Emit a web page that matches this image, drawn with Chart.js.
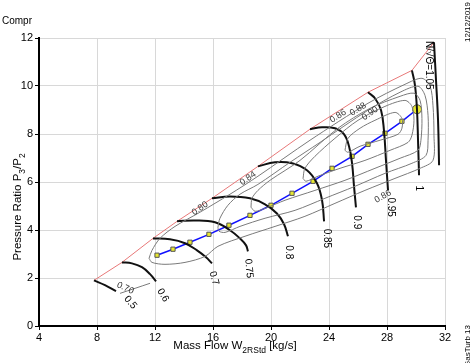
<!DOCTYPE html>
<html lang="en">
<head>
<meta charset="UTF-8">
<title>Compressor Map</title>
<script src="https://cdn.jsdelivr.net/npm/chart.js@4.4.1/dist/chart.umd.min.js"></script>
<style>
  html, body { margin: 0; padding: 0; background: #fff; }
</style>
</head>
<body>
<canvas id="mapChart" width="474" height="363"></canvas>

<script>
// axis ticks
const massFlowTicks = [4, 8, 12, 16, 20, 24, 28, 32];
const pressureTicks = [0, 2, 4, 6, 8, 10, 12];

// surge line (W, P3/P2)
const surgeLine = [[7.79,1.90],[9.72,2.65],[11.86,3.65],[13.52,4.36],[15.93,5.32],[19.10,6.65],[22.69,8.20],[26.69,9.74],[29.72,10.65],[31.24,11.82]];

// corrected speed lines
const speedNames = ['0.5', '0.6', '0.7', '0.75', '0.8', '0.85', '0.9', '0.95', '1', 'N/\u221A\u0398=1.05'];
const spd050 = [[7.79,1.90],[8.55,1.70],[9.31,1.45]];
const spd060 = [[9.72,2.65],[10.41,2.61],[11.10,2.45],[11.66,2.16],[12.07,1.86]];
const spd070 = [[11.86,3.65],[13.03,3.61],[14.07,3.45],[14.90,3.15],[15.52,2.86],[15.93,2.61]];
const spd075 = [[13.52,4.36],[14.76,4.40],[16.14,4.32],[17.17,3.99],[17.86,3.65],[18.28,3.36],[18.41,3.11]];
const spd080 = [[15.93,5.32],[17.17,5.40],[18.55,5.32],[19.59,5.07],[20.41,4.69],[20.90,4.24],[21.17,3.74]];
const spd085 = [[19.10,6.65],[20.28,6.82],[21.45,6.78],[22.48,6.49],[23.17,5.95],[23.52,5.24],[23.66,4.36]];
const spd090 = [[22.69,8.20],[23.52,8.28],[24.41,8.24],[25.03,7.99],[25.38,7.49],[25.59,6.78],[25.72,5.86],[25.86,4.94]];
const spd095 = [[26.69,9.74],[27.17,9.49],[27.59,8.99],[27.79,8.15],[27.93,6.90],[28.07,5.65]];
const spd100 = [[29.72,10.65],[29.93,10.03],[30.07,8.99],[30.14,7.74],[30.21,6.28]];
const spd105 = [[31.24,11.82],[31.38,10.24],[31.52,8.57],[31.59,6.70]];
const speedLines = [spd050, spd060, spd070, spd075, spd080, spd085, spd090, spd095, spd100, spd105];
const speedLabelAt = [[10.30,0.98],[12.55,1.28],[16.07,1.99],[18.48,2.40],[21.24,3.07],[23.86,3.65],[25.93,4.32],[28.28,4.95],[30.21,5.74],[30.88,10.86]];

// operating line
const opFlow = [12.14,13.24,14.41,15.72,17.10,18.55,20.00,21.45,22.90,24.21,25.59,26.69,27.86,29.03,30.07];
const opPR   = [2.95,3.20,3.49,3.82,4.20,4.61,5.03,5.53,6.03,6.57,7.07,7.57,8.03,8.53,9.03];

// efficiency contours
const eff070 = [[9.59,1.36],[11.66,1.78]];
const eff080 = [[11.59,2.82],[11.79,3.15],[12.34,3.65],[13.38,4.15],[15.10,4.74],[17.17,5.49],[19.10,6.24],[22.69,7.74],[26.69,9.28],[29.24,10.07],[30.41,10.32],[30.97,9.99],[31.17,9.20],[31.24,7.95],[31.17,6.90],[30.28,6.57],[28.55,6.15],[26.48,5.65],[24.41,5.11],[22.34,4.57],[20.28,4.15],[18.21,3.74],[16.34,3.32],[15.45,2.90],[14.07,2.65],[12.69,2.57],[11.79,2.65],[11.59,2.82]];
const eff084 = [[16.34,4.11],[16.48,4.49],[17.03,5.03],[17.86,5.49],[19.10,5.90],[21.31,6.82],[23.38,7.65],[26.69,8.99],[28.90,9.74],[30.14,9.99],[30.62,9.61],[30.83,8.78],[30.83,7.74],[30.69,7.11],[29.72,6.78],[27.86,6.36],[25.79,5.82],[23.72,5.32],[21.66,4.82],[19.59,4.49],[17.86,4.15],[16.83,3.90],[16.41,3.95],[16.34,4.11]];
const eff086 = [[18.62,4.95],[18.69,5.32],[19.10,5.65],[19.93,6.07],[22.00,6.90],[24.62,8.24],[26.83,9.07],[28.90,9.57],[29.86,9.70],[30.28,9.40],[30.41,8.65],[30.34,7.74],[30.14,7.32],[28.90,6.99],[27.17,6.57],[25.10,6.07],[23.03,5.65],[20.97,5.24],[19.59,4.90],[18.90,4.78],[18.62,4.95]];
const eff088 = [[22.21,6.15],[22.34,6.57],[23.03,7.07],[24.41,7.82],[26.00,8.57],[27.86,9.15],[29.24,9.40],[29.72,9.15],[29.86,8.57],[29.72,7.95],[29.45,7.65],[28.21,7.32],[26.48,6.90],[24.76,6.57],[23.24,6.24],[22.41,6.03],[22.21,6.15]];
const eff090 = [[25.10,7.32],[25.31,7.82],[26.14,8.24],[27.17,8.57],[28.55,8.90],[29.03,8.65],[29.03,8.24],[28.76,7.99],[27.52,7.74],[26.14,7.49],[25.31,7.24],[25.10,7.32]];
const effContours = [eff070, eff080, eff084, eff086, eff088, eff090];
const effLabelText = ['0.70', '0.80', '0.84', '0.86', '0.88', '0.90', '0.86'];
const effLabelAt = [[9.95,1.58],[15.10,4.90],[18.41,6.15],[24.62,8.74],[26.00,9.03],[26.83,8.86],[27.72,5.40]];

// label angles (degrees)
const speedLabelRot = [50, 60, 75, 85, 90, 90, 90, 90, 90, 90];
const effLabelRot = [25, -35, -35, -32, -32, -35, -30];

const FONT = '"Liberation Sans", Arial, sans-serif';

function toPts(arr) {
    return arr.map(p => ({ x: p[0], y: p[1] }));
}

const datasets = [];
effContours.forEach(c => {
    datasets.push({ data: toPts(c), borderColor: '#7a7a7a', borderWidth: 1, pointRadius: 0, tension: 0.3 });
});
speedLines.forEach(s => {
    datasets.push({ data: toPts(s), borderColor: '#111', borderWidth: 2, pointRadius: 0, tension: 0.4 });
});
datasets.push({ data: toPts(surgeLine), borderColor: '#e87878', borderWidth: 1, pointRadius: 0, tension: 0 });
datasets.push({
    data: opFlow.map((w, i) => ({ x: w, y: opPR[i] })),
    borderColor: '#1010ff',
    borderWidth: 1.5,
    tension: 0,
    pointStyle: opFlow.map((w, i) => i === opFlow.length - 1 ? 'circle' : 'rect'),
    pointRadius: opFlow.map((w, i) => i === opFlow.length - 1 ? 4.5 : 3),
    pointBackgroundColor: '#e8e830',
    pointBorderColor: '#555',
    pointBorderWidth: 1
});

function rotText(ctx, txt, x, y, deg) {
    ctx.save();
    ctx.translate(x, y);
    ctx.rotate(deg * Math.PI / 180);
    ctx.fillText(txt, 0, 0);
    ctx.restore();
}

const mapLabels = {
    id: 'mapLabels',
    afterDatasetsDraw(chart) {
        const ctx = chart.ctx;
        const xs = chart.scales.x, ys = chart.scales.y;
        ctx.save();
        ctx.textAlign = 'center';
        ctx.textBaseline = 'middle';
        ctx.font = '9px ' + FONT;
        ctx.fillStyle = '#333';
        effLabelText.forEach((t, i) => {
            rotText(ctx, t, xs.getPixelForValue(effLabelAt[i][0]), ys.getPixelForValue(effLabelAt[i][1]), effLabelRot[i]);
        });
        ctx.font = '10px ' + FONT;
        ctx.fillStyle = '#000';
        speedNames.forEach((t, i) => {
            rotText(ctx, t, xs.getPixelForValue(speedLabelAt[i][0]), ys.getPixelForValue(speedLabelAt[i][1]), speedLabelRot[i]);
        });
        ctx.restore();
    },
    afterDraw(chart) {
        const ctx = chart.ctx;
        ctx.save();
        ctx.fillStyle = '#000';
        ctx.textBaseline = 'alphabetic';
        ctx.textAlign = 'left';

        // x title with subscript
        const big = '11.5px ' + FONT, small = '8.5px ' + FONT;
        let parts = [['Mass Flow W', big, 0], ['2RStd', small, 4], [' [kg/s]', big, 0]];
        let total = 0;
        parts.forEach(p => { ctx.font = p[1]; total += ctx.measureText(p[0]).width; });
        let x = 235 - total / 2;
        parts.forEach(p => { ctx.font = p[1]; ctx.fillText(p[0], x, 349 + p[2]); x += ctx.measureText(p[0]).width; });

        // y title with subscripts
        parts = [['Pressure Ratio P', big, 0], ['3', small, 4], ['/P', big, 0], ['2', small, 4]];
        total = 0;
        parts.forEach(p => { ctx.font = p[1]; total += ctx.measureText(p[0]).width; });
        ctx.translate(21, 207);
        ctx.rotate(-Math.PI / 2);
        x = -total / 2;
        parts.forEach(p => { ctx.font = p[1]; ctx.fillText(p[0], x, p[2]); x += ctx.measureText(p[0]).width; });
        ctx.setTransform(1, 0, 0, 1, 0, 0);

        ctx.font = '10px ' + FONT;
        ctx.fillText('Compr', 2, 24);

        ctx.font = '8px ' + FONT;
        ctx.textAlign = 'center';
        rotText(ctx, '12/12/2019', 470, 22, -90);
        rotText(ctx, 'GasTurb 13', 470, 346, -90);
        ctx.restore();
    }
};

const mapChart = new Chart(document.getElementById('mapChart').getContext('2d'), {
    type: 'scatter',
    data: { datasets: datasets },
    options: {
        responsive: false,
        animation: false,
        devicePixelRatio: 1,
        showLine: true,
        layout: { padding: { top: 38, right: 29, left: 0, bottom: 0 } },
        plugins: { legend: { display: false }, tooltip: { enabled: false } },
        scales: {
            x: {
                type: 'linear',
                min: 4,
                max: 32,
                afterBuildTicks: s => { s.ticks = massFlowTicks.map(v => ({ value: v })); },
                afterFit: s => { s.height = 37; },
                ticks: { color: '#000', font: { size: 11, family: FONT }, padding: 1, maxRotation: 0 },
                grid: { color: '#d8d8d8', tickColor: '#000', tickLength: 4 },
                border: { color: '#000', width: 2 }
            },
            y: {
                type: 'linear',
                min: 0,
                max: 12,
                afterBuildTicks: s => { s.ticks = pressureTicks.map(v => ({ value: v })); },
                afterFit: s => { s.width = 39; },
                ticks: { color: '#000', font: { size: 11, family: FONT }, padding: 2 },
                grid: { color: '#d8d8d8', tickColor: '#000', tickLength: 4 },
                border: { color: '#000', width: 2 }
            }
        }
    },
    plugins: [mapLabels]
});
</script>
</body>
</html>
